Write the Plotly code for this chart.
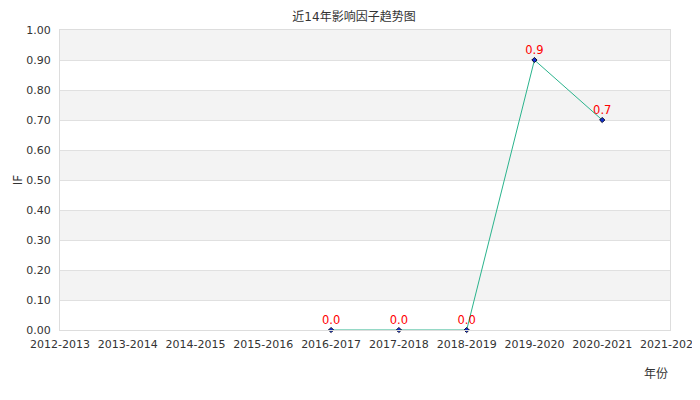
import plotly.graph_objects as go

years = ["2012-2013", "2013-2014", "2014-2015", "2015-2016", "2016-2017",
         "2017-2018", "2018-2019", "2019-2020", "2020-2021", "2021-2022"]
data_years = ["2016-2017", "2017-2018", "2018-2019", "2019-2020", "2020-2021"]
if_values = [0.0, 0.0, 0.0, 0.9, 0.7]

font = "DejaVu Sans, Noto Sans CJK SC, sans-serif"

fig = go.Figure()
fig.add_trace(go.Scatter(
    x=data_years, y=if_values, mode="lines+markers+text",
    line=dict(color="#2ab38c", width=1),
    marker=dict(symbol="diamond", size=4, color="#1030d0",
                line=dict(color="#101030", width=1)),
    text=[f"{v:.1f}" for v in if_values], textposition="top center",
    textfont=dict(color="#ff0000", size=11.5, family=font),
    cliponaxis=False, showlegend=False,
))

# alternating background bands
for lo in [0.1, 0.3, 0.5, 0.7, 0.9]:
    fig.add_shape(type="rect", xref="paper", yref="y", x0=0, x1=1,
                  y0=lo, y1=lo + 0.1, fillcolor="#f3f3f3", line_width=0,
                  layer="below")

# page body adds an 8px offset, so the figure is a bit smaller than the window
fig.update_layout(
    width=692, height=384,
    margin=dict(l=52, r=30, t=22, b=62),
    paper_bgcolor="white", plot_bgcolor="white",
    font=dict(family=font, size=11, color="#333333"),
    title=dict(text="近14年影响因子趋势图", x=0.5, y=0.977, xanchor="center",
               yanchor="middle", font=dict(size=12, color="#333333")),
    annotations=[dict(text="年份", xref="paper", yref="paper", x=1, y=-0.115,
                      xanchor="right", yanchor="top", showarrow=False,
                      font=dict(size=12, color="#333333"))],
)
fig.update_xaxes(
    type="category", categoryorder="array", categoryarray=years,
    range=[0, 9], showgrid=False, showline=True, linecolor="#dddddd",
    mirror=True, ticks="", tickfont=dict(size=11), automargin=False,
    ticklabelstandoff=4,
)
fig.update_yaxes(
    range=[0, 1], dtick=0.1, tickformat=".2f", showgrid=True,
    gridcolor="#e0e0e0", showline=True, linecolor="#dddddd", mirror=True,
    zeroline=False, title=dict(text="IF", standoff=1, font=dict(size=12)),
    tickfont=dict(size=11), automargin=False, ticklabelstandoff=6,
)

fig.write_html("out.html")
